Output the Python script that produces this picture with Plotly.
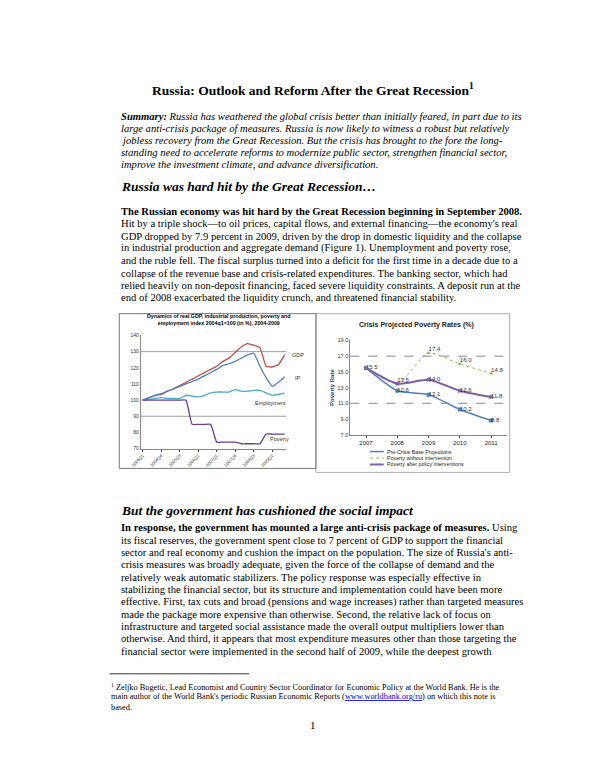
import plotly.graph_objects as go

# ---- Data: left chart (index 2004q1=100) ----
quarters = [f"{y}Q{q}" for y in range(2004, 2010) for q in range(1, 5)]
gdp = [100, 101.5, 103, 103.5, 105.5, 107, 109, 111, 113, 115, 117, 119,
       121, 124, 126, 129.5, 133, 135, 134, 132.5, 121, 120.5, 122, 128]
ip = [100, 101.5, 103, 104, 105.5, 107, 108.5, 110, 111.5, 113, 115, 117,
      119, 121.5, 122.5, 124, 126, 128, 129, 121, 114, 108.5, 111, 114.5]
employment = [100, 100.5, 101, 101.5, 101, 101, 101, 103, 102.5, 102, 103, 104.5,
              105, 105, 105, 106.5, 105.5, 105.5, 106, 106, 104.5, 103, 103.5, 104.5]
poverty = [100, 100, 100, 100, 100, 100, 100, 100, 85, 85, 85, 85,
           74, 74, 74, 74, 73, 73, 73, 73, 79, 79, 79, 79]
left_ticks = quarters[::3]

# ---- Data: right chart (poverty rate %) ----
years = ["2007", "2008", "2009", "2010", "2011"]
pre_crisis = [15.5, 12.6, 12.1, 10.2, 8.8]
no_intervention = [15.5, 13.5, 17.4, 16.0, 14.8]
post_intervention = [15.5, 13.5, 14.0, 12.6, 11.8]
right_yticks = [7, 9, 11, 13, 15, 17, 19]
series_names = ["Pre-Crisis Base Projections", "Poverty without intervention", "Poverty after policy interventions"]

W, H = 600, 776
def px(x): return x / W
def py(y): return 1 - y / H

fig = go.Figure()

for name, vals, col in [("GDP", gdp, "#c0504d"), ("IP", ip, "#4f81bd"),
                        ("Employment", employment, "#4bacc6"), ("Poverty", poverty, "#6a3d9a")]:
    fig.add_trace(go.Scatter(x=quarters, y=vals, mode="lines", line=dict(color=col, width=1.3, shape="spline", smoothing=0.4),
                             xaxis="x", yaxis="y", showlegend=False, name=name))

styles = [dict(color="#4f81bd", width=1.5), dict(color="#9bbb59", width=1, dash="dot"), dict(color="#7f5fa8", width=2)]
symbols = ["square", "triangle-up", "x"]
label_pos = ["middle right", "top right", "middle right"]
for i, (name, vals) in enumerate(zip(series_names, [pre_crisis, no_intervention, post_intervention])):
    fig.add_trace(go.Scatter(x=years, y=vals, mode="lines+markers", name=name,
                             line=dict(shape="spline", smoothing=0.6, **styles[i]),
                             marker=dict(symbol=symbols[i], size=4, color=styles[i]["color"]),
                             xaxis="x2", yaxis="y2", showlegend=False))
    start = 0 if i == 0 else (1 if i == 1 else 2)
    fig.add_trace(go.Scatter(x=years[start:], y=vals[start:], mode="text", text=[f"{v:.1f}" for v in vals[start:]],
                             textposition=label_pos[i], textfont=dict(size=6, color="#333", family="Liberation Sans"),
                             xaxis="x2", yaxis="y2", showlegend=False, hoverinfo="skip"))

serif = "Liberation Serif"
anns = []
def ann(x, y, text, size=10.6, xanchor="left", color="black", family=serif, **kw):
    anns.append(dict(x=px(x), y=py(y), xref="paper", yref="paper", text=text, showarrow=False,
                     xanchor=xanchor, yanchor="middle", font=dict(size=size, family=family, color=color), **kw))

ann(300, 79, "<b>Russia: Outlook and Reform After the Great Recession<sup>1</sup></b>", size=13.5, xanchor="center")

summary = ["<b>Summary:</b> Russia has weathered the global crisis better than initially feared, in part due to its",
           "large anti-crisis package of measures. Russia is now likely to witness a robust but relatively",
           "jobless recovery from the Great Recession. But the crisis has brought to the fore the long-",
           "standing need to accelerate reforms to modernize public sector, strengthen financial sector,",
           "improve the investment climate, and advance diversification."]
for i, t in enumerate(summary):
    ann(103, 106 + 12.2 * i, f"<i>{t}</i>")

ann(103, 177, "<b><i>Russia was hard hit by the Great Recession…</i></b>", size=13.5)

para1 = ["<b>The Russian economy was hit hard by the Great Recession beginning in September 2008.</b>",
         "Hit by a triple shock—to oil prices, capital flows, and external financing—the economy's real",
         "GDP dropped by 7.9 percent in 2009, driven by the drop in domestic liquidity and the collapse",
         "in industrial production and aggregate demand (Figure 1). Unemployment and poverty rose,",
         "and the ruble fell. The fiscal surplus turned into a deficit for the first time in a decade due to a",
         "collapse of the revenue base and crisis-related expenditures. The banking sector, which had",
         "relied heavily on non-deposit financing, faced severe liquidity constraints. A deposit run at the",
         "end of 2008 exacerbated the liquidity crunch, and threatened financial stability."]
for i, t in enumerate(para1):
    ann(103, 202 + 12.45 * i, t)

ann(103, 503, "<b><i>But the government has cushioned the social impact</i></b>", size=13.5)

para2 = ["<b>In response, the government has mounted a large anti-crisis package of measures.</b> Using",
         "its fiscal reserves, the government spent close to 7 percent of GDP to support the financial",
         "sector and real economy and cushion the impact on the population. The size of Russia's anti-",
         "crisis measures was broadly adequate, given the force of the collapse of demand and the",
         "relatively weak automatic stabilizers. The policy response was especially effective in",
         "stabilizing the financial sector, but its structure and implementation could have been more",
         "effective. First, tax cuts and broad (pensions and wage increases) rather than targeted measures",
         "made the package more expensive than otherwise. Second, the relative lack of focus on",
         "infrastructure and targeted social assistance made the overall output multipliers lower than",
         "otherwise. And third, it appears that most expenditure measures other than those targeting the",
         "financial sector were implemented in the second half of 2009, while the deepest growth"]
for i, t in enumerate(para2):
    ann(103, 521 + 12.4 * i, t)

foot = ["<sup>1</sup> Zeljko Bogetic, Lead Economist and Country Sector Coordinator for Economic Policy at the World Bank. He is the",
        "main author of the World Bank's periodic Russian Economic Reports (<span style='color:#0000ee'><u>www.worldbank.org/ru</u></span>) on which this note is",
        "based."]
for i, t in enumerate(foot):
    ann(93, 681 + 10.3 * i, t, size=8.3)
ann(300, 720, "1", size=11, xanchor="center")

ann(204, 311, "<b>Dynamics of real GDP, industrial production, poverty and<br>employment index 2004q1=100 (in %), 2004-2009</b>",
    size=5.3, xanchor="center", family="Liberation Sans")
ann(405, 316, "<b>Crisis Projected Poverty Rates (%)</b>", size=7, xanchor="center", family="Liberation Sans", color="#222")
for lab, x, y in [("GDP", 277, 347), ("IP", 280, 370), ("Employment", 239, 395), ("Poverty", 254, 431)]:
    ann(x, y, lab, size=5.5, family="Liberation Sans", color="#333")

shapes = [
    dict(type="rect", xref="paper", yref="paper", x0=px(103), x1=px(303), y0=py(461), y1=py(305), line=dict(color="#555", width=0.8)),
    dict(type="rect", xref="paper", yref="paper", x0=px(303), x1=px(500), y0=py(465), y1=py(305), line=dict(color="#777", width=0.6)),
    dict(type="line", xref="paper", yref="paper", x0=px(93), x1=px(235), y0=py(668), y1=py(668), line=dict(color="black", width=0.8)),
]
# manual compact legend
for i, name in enumerate(series_names):
    yy = 444 + 6.5 * i
    shapes.append(dict(type="line", xref="paper", yref="paper", x0=px(358), x1=px(372), y0=py(yy), y1=py(yy),
                       line=styles[i]))
    ann(373, yy, name, size=5.3, family="Liberation Sans", color="#222")
for v in (90, 130):
    shapes.append(dict(type="line", xref="x domain", yref="y", x0=0, x1=1, y0=v, y1=v, line=dict(color="#888", width=0.8), layer="below"))
for v in (11, 17):
    shapes.append(dict(type="line", xref="x2 domain", yref="y2", x0=0, x1=1, y0=v, y1=v, line=dict(color="#666", width=0.8, dash="dash"), layer="below"))

tickfont = dict(size=5, family="Liberation Sans", color="#333")
fig.update_layout(
    width=W, height=H, margin=dict(l=0, r=0, t=0, b=0), paper_bgcolor="white", plot_bgcolor="white",
    annotations=anns, shapes=shapes, showlegend=False,
    xaxis=dict(domain=[px(125), px(273)], anchor="y", tickvals=left_ticks, ticktext=left_ticks, tickangle=-45,
               tickfont=dict(size=4.3, family="Liberation Sans", color="#333"), showgrid=False, showline=True,
               linecolor="#888", ticks="outside", ticklen=2, range=[-0.3, 23.3]),
    yaxis=dict(domain=[py(441), py(327)], anchor="x", range=[70, 140], dtick=10, tickfont=tickfont,
               showgrid=False, showline=True, linecolor="#888", zeroline=False),
    xaxis2=dict(domain=[px(338), px(497)], anchor="y2", tickfont=dict(size=6, family="Liberation Sans", color="#222"),
                showgrid=False, showline=True, linecolor="#888", ticks="outside", ticklen=2, range=[-0.5, 4.5]),
    yaxis2=dict(domain=[py(427), py(332)], anchor="x2", range=[7, 19], tickvals=right_yticks,
                ticktext=[f"{v:.1f}" for v in right_yticks], tickfont=dict(size=5.5, family="Liberation Sans", color="#333"),
                showgrid=False, showline=True, linecolor="#888", zeroline=False,
                title=dict(text="<b>Poverty Rate</b>", font=dict(size=6, family="Liberation Sans"), standoff=2)),
)
fig.write_html("out.html")
